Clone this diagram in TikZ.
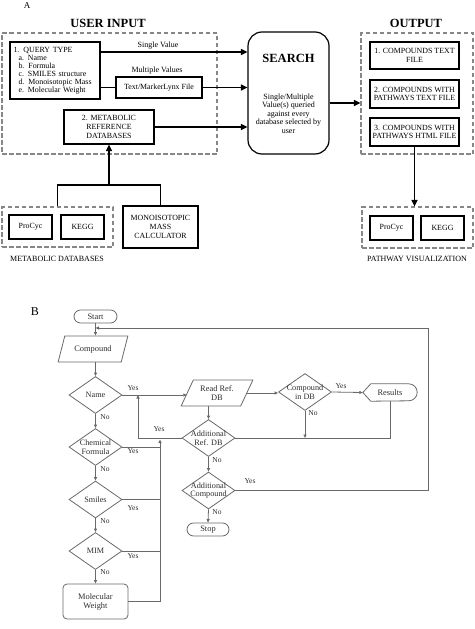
\documentclass[tikz,border=0pt]{standalone}
\usepackage{fontspec}
\setmainfont{Liberation Serif}
\usetikzlibrary{shapes.geometric,arrows.meta}
\definecolor{bline}{RGB}{105,105,105}
\definecolor{btext}{RGB}{45,45,45}
\definecolor{dashc}{RGB}{135,135,135}
\begin{document}
\begin{tikzpicture}[x=1pt,y=-1pt,
  boxA/.style={draw=black, line width=1.2pt, inner sep=0pt, align=center, font=\fontsize{7.9}{8.8}\selectfont},
  dashbox/.style={draw=dashc, line width=1.1pt, dash pattern=on 4.5pt off 2.5pt, inner sep=0pt},
  lineA/.style={line width=1.3pt},
  arrA/.style={line width=1.3pt, -{Triangle[length=6.5pt,width=6pt]}},
  titleA/.style={font=\fontsize{12.5}{14}\selectfont\bfseries, inner sep=0pt},
  lblA/.style={font=\fontsize{8}{8.4}\selectfont, inner sep=0pt, align=center},
  nodeB/.style={draw=bline, line width=0.8pt, text=btext, inner sep=0pt, align=center, font=\fontsize{8.4}{9}\selectfont},
  diaB/.style={nodeB, diamond, minimum width=53pt, minimum height=37pt},
  lblD/.style={text=btext, inner sep=0pt, align=center, font=\fontsize{8.2}{8.6}\selectfont},
  paraB/.style={nodeB, trapezium, trapezium left angle=60, trapezium right angle=120, trapezium stretches=true},
  termB/.style={nodeB, rectangle, rounded corners=6.5pt, minimum width=43pt, minimum height=13pt},
  lineB/.style={draw=bline, line width=0.8pt},
  arrB/.style={draw=bline, line width=0.8pt, -{Triangle[length=3.5pt,width=3pt]}},
  lblB/.style={text=btext, inner sep=0pt, font=\fontsize{7.5}{8}\selectfont}
]
\useasboundingbox (0,0) rectangle (474,629);
% ---------------- Part A ----------------
\node[font=\fontsize{9}{10}\selectfont, inner sep=0pt] (labA) at (27,6) {A};
\node[titleA] (uiT) at (108,23) {USER INPUT};
\node[dashbox, minimum width=215pt, minimum height=121pt] (ui) at (109.5,93.5) {};
\node[boxA, minimum width=90pt, minimum height=57pt, text width=83pt, align=left,
      font=\fontsize{7.9}{8.1}\selectfont] (qt) at (55,70.5)
  {1. QUERY TYPE\\\hspace*{5pt}a. Name\\\hspace*{5pt}b. Formula\\\hspace*{5pt}c. SMILES structure\\\hspace*{5pt}d. Monoisotopic Mass\\\hspace*{5pt}e. Molecular Weight};
\node[boxA, minimum width=86pt, minimum height=21pt] (tm) at (159,87.5) {Text/MarkerLynx File};
\node[boxA, minimum width=90pt, minimum height=34pt] (mrd) at (109,127) {2. METABOLIC\\REFERENCE\\DATABASES};
\node[draw, line width=1.2pt, rounded corners=14pt, minimum width=81pt, minimum height=122pt, inner sep=0pt] (search) at (288.5,93) {};
\node[titleA] (searchT) at (288.5,58) {SEARCH};
\node[lblA] (searchD) at (288.5,113.5) {Single/Multiple\\Value(s) queried\\against every\\database selected by\\user};
\node[lblA] (sv) at (158,46) {Single Value};
\node[lblA] (mv) at (157,71) {Multiple Values};
\coordinate (ySV) at (0,52);
\coordinate (yOut) at (0,103);
\draw[arrA] (qt.east |- ySV) -- (search.west |- ySV);
\draw[lineA] (qt.east |- tm.west) -- (tm.west);
\draw[arrA] (tm.east) -- (search.west |- tm.east);
\draw[arrA] (mrd.east) -- (search.west |- mrd.east);
% output
\node[titleA] (outT) at (416,23) {OUTPUT};
\node[dashbox, minimum width=112pt, minimum height=121pt] (out) at (417,93.5) {};
\draw[arrA] (search.east |- yOut) -- (out.west |- yOut);
\node[boxA, minimum width=89pt, minimum height=27pt] (o1) at (414.5,55.5) {1. COMPOUNDS TEXT\\FILE};
\node[boxA, minimum width=89pt, minimum height=28pt] (o2) at (414.5,94) {2. COMPOUNDS WITH\\PATHWAYS TEXT FILE};
\node[boxA, minimum width=89pt, minimum height=28pt] (o3) at (414.5,132) {3. COMPOUNDS WITH\\PATHWAYS HTML FILE};
\node[dashbox, minimum width=111pt, minimum height=41pt] (pv) at (417.5,227.5) {};
\draw[arrA] (o3.south) -- (o3.south |- pv.north);
\node[boxA, minimum width=43pt, minimum height=24pt] (pc2) at (391.5,228) {ProCyc};
\node[boxA, minimum width=43pt, minimum height=24pt] (kg2) at (442.5,228) {KEGG};
\node[lblA] (pvT) at (417,259) {PATHWAY VISUALIZATION};
% metabolic databases
\node[dashbox, minimum width=111pt, minimum height=40pt] (md) at (57.5,227) {};
\node[boxA, minimum width=43pt, minimum height=24pt] (pc1) at (30.5,227) {ProCyc};
\node[boxA, minimum width=43pt, minimum height=24pt] (kg1) at (82.5,227) {KEGG};
\node[boxA, minimum width=75pt, minimum height=42pt] (mmc) at (160.5,227) {MONOISOTOPIC\\MASS\\CALCULATOR};
\node[lblA] (mdT) at (57,259) {METABOLIC DATABASES};
\coordinate (jn) at (109,185);
\draw[lineA] (md.north) |- (jn) -| (mmc.north);
\draw[arrA] (jn) -- (mrd.south);
% ---------------- Part B ----------------
\node[font=\fontsize{12}{13}\selectfont, inner sep=0pt] (labB) at (35,312) {B};
\node[termB] (start) at (95.5,316.5) {Start};
\node[paraB, minimum width=70pt, minimum height=26pt] (comp) at (93,349) {Compound};
\node[diaB, label={[lblD]center:Name}] (nm) at (95.5,395) {};
\node[diaB, label={[lblD]center:{Chemical\\Formula}}] (cf) at (95.5,447) {};
\node[diaB, label={[lblD]center:Smiles}] (sm) at (95.5,499.5) {};
\node[diaB, label={[lblD]center:MIM}] (mim) at (95.5,551) {};
\node[nodeB, rounded corners=4pt, minimum width=65pt, minimum height=35pt] (mw) at (95.5,601.5) {Molecular\\Weight};
\node[paraB, minimum width=72pt, minimum height=26pt] (rr) at (217,393) {Read Ref.\\DB};
\node[diaB, label={[lblD]center:{Compound\\in DB}}] (cidb) at (305,392) {};
\node[inner sep=0pt, minimum width=54pt, minimum height=17pt, text=btext, font=\fontsize{8.4}{9}\selectfont] (res) at (390,392.5) {Results};
\draw[lineB] ([xshift=8pt]res.north west) -- ([xshift=-8.5pt]res.north east) arc(90:-90:8.5pt) -- ([xshift=8pt]res.south west) -- (res.west) -- cycle;
\node[diaB, label={[lblD]center:{Additional\\Ref. DB}}] (ard) at (208.5,438) {};
\node[diaB, label={[lblD]center:{Additional\\Compound}}] (ac) at (208.5,490.5) {};
\node[termB, minimum width=42pt] (stop) at (208,529.5) {Stop};
% connectors
\draw[arrB] (start.south) -- (start.south |- comp.north);
\draw[arrB] (comp.south -| nm.north) -- (nm.north);
\draw[arrB] (nm.south) -- (cf.north);
\draw[arrB] (cf.south) -- (sm.north);
\draw[arrB] (sm.south) -- (mim.north);
\draw[arrB] (mim.south) -- (mw.north);
\draw[arrB] (nm.east) -- (rr.west |- nm.east);
\draw[arrB] (rr.east) -- (cidb.west |- rr.east);
\draw[arrB] (cidb.east) -- (res.west);
\draw[lineB] (res.south) |- (ard.east);
\draw[arrB] (cidb.south) -- (cidb.south |- ard.east);
\draw[arrB] (ard.north |- rr.south) -- (ard.north);
\coordinate (jy) at (138,395);
\draw[arrB] (ard.west) -| (jy);
\coordinate (jx) at (160,439.5);
\draw[arrB] (mw.east) -| (jx);
\draw[lineB] (cf.east) -- (cf.east -| jx);
\draw[lineB] (sm.east) -- (sm.east -| jx);
\draw[lineB] (mim.east) -- (mim.east -| jx);
\draw[arrB] (ard.south) -- (ac.north);
\draw[arrB] (ac.south) -- (stop.north);
\coordinate (loop) at (428,328);
\draw[arrB] (ac.east) -| (loop) -- (start.south |- loop);
% labels
\node[lblB] (y1) at (133,388) {Yes};
\node[lblB] (y2) at (133,451) {Yes};
\node[lblB] (y3) at (133,508) {Yes};
\node[lblB] (y4) at (133,556) {Yes};
\node[lblB] (y5) at (159,429) {Yes};
\node[lblB] (y6) at (341,386) {Yes};
\node[lblB] (y7) at (250,481) {Yes};
\node[lblB] (n1) at (105,417) {No};
\node[lblB] (n2) at (105,469) {No};
\node[lblB] (n3) at (105,521) {No};
\node[lblB] (n4) at (105,572) {No};
\node[lblB] (n5) at (313,413) {No};
\node[lblB] (n6) at (217,460) {No};
\node[lblB] (n7) at (217,512) {No};
\end{tikzpicture}
\end{document}
